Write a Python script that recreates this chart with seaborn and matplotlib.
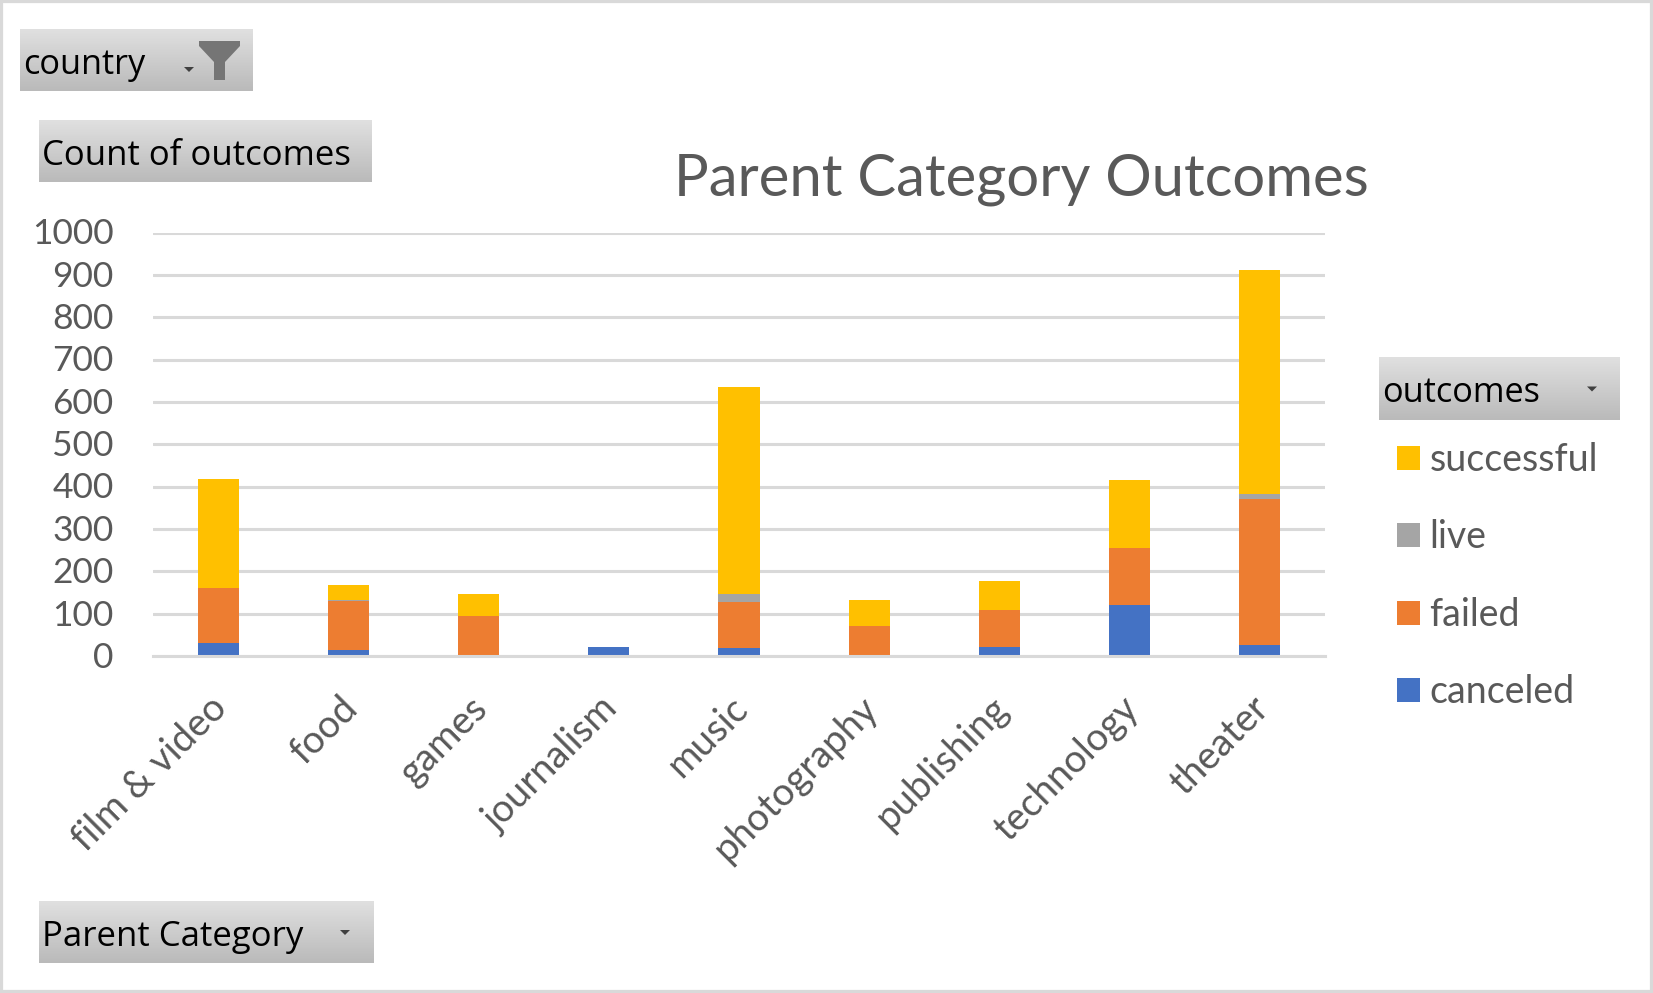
import numpy as np
import pandas as pd
import matplotlib
matplotlib.use("Agg")
import matplotlib.pyplot as plt
from matplotlib.patches import Rectangle, Polygon
from matplotlib.transforms import ScaledTranslation
import seaborn as sns

categories = ["film & video", "food", "games", "journalism", "music",
              "photography", "publishing", "technology", "theater"]
canceled = [30, 14, 0, 21, 19, 0, 21, 120, 26]
failed = [130, 116, 95, 0, 108, 71, 87, 136, 345]
live = [0, 3, 0, 0, 20, 0, 0, 0, 12]
successful = [259, 35, 52, 0, 488, 62, 69, 159, 528]
outcome_names = ["successful", "live", "failed", "canceled"]
outcome_colors = ["#FFC000", "#A5A5A5", "#ED7D31", "#4472C4"]
yticks = list(range(0, 1001, 100))

W, H = 1653, 993
TEXT = "#595959"
GRID = "#D9D9D9"

sns.set_theme(style="white")
plt.rcParams["font.family"] = ["Lato", "DejaVu Sans"]

fig = plt.figure(figsize=(W / 100, H / 100), dpi=100, facecolor="white")


def rect(x0, y0, x1, y1):
    return [x0 / W, 1 - y1 / H, (x1 - x0) / W, (y1 - y0) / H]


def fx(x):
    return x / W


def fy(y):
    return 1 - y / H


# outer chart border
fig.add_artist(Rectangle((0, 0), 1, 1, transform=fig.transFigure, fill=False,
                         edgecolor=GRID, linewidth=4.5))

ax = fig.add_axes(rect(153, 232.5, 1325, 656))
df = pd.DataFrame({
    "category": pd.Categorical(categories * 4, categories=categories, ordered=True),
    "outcome": np.repeat(outcome_names, len(categories)),
    "count": successful + live + failed + canceled,
})
sns.histplot(data=df, x="category", weights="count", hue="outcome",
             hue_order=outcome_names, palette=dict(zip(outcome_names, outcome_colors)),
             multiple="stack", shrink=0.316, alpha=1, linewidth=0, legend=False, ax=ax)
ax.set_xlim(-0.5, len(categories) - 0.5)
ax.set_ylim(0, 1000)
ax.set_yticks(yticks)
ax.set_xticks(range(len(categories)))
ax.set_xticklabels(categories, rotation=45, ha="right", rotation_mode="anchor",
                   fontsize=27.5, color=TEXT)
ax.tick_params(axis="y", length=0, pad=28.5, labelsize=25.5, labelcolor=TEXT)
ax.tick_params(axis="x", length=0, pad=24.5)
ax.set_xlabel("")
ax.set_ylabel("")
ax.grid(axis="y", color=GRID, linewidth=2.2, zorder=0)
ax.set_axisbelow(True)
for side in ["top", "right", "left"]:
    ax.spines[side].set_visible(False)
ax.spines["bottom"].set_color(GRID)
ax.spines["bottom"].set_linewidth(2.2)
shift = ScaledTranslation(-7 / 72, 0, fig.dpi_scale_trans)
for lab in ax.get_xticklabels():
    lab.set_transform(lab.get_transform() + shift)
yshift = ScaledTranslation(0, 0.8 / 72, fig.dpi_scale_trans)
for lab in ax.get_yticklabels():
    lab.set_transform(lab.get_transform() + yshift)

fig.text(fx(1021), fy(180), "Parent Category Outcomes", fontsize=41.8, color=TEXT,
         ha="center", va="center")

# legend
handles = [Rectangle((0, 0), 1, 1, facecolor=c, edgecolor="none") for c in outcome_colors]
fig.legend(handles, outcome_names, loc="upper left",
           bbox_to_anchor=(fx(1397), fy(442)), frameon=False, fontsize=27,
           labelcolor=TEXT, handlelength=0.62, handleheight=0.62, handletextpad=0.25,
           labelspacing=1.105, borderaxespad=0, borderpad=0)

# field buttons
gradient = np.linspace(0, 1, 64).reshape(-1, 1)
cmap = matplotlib.colors.LinearSegmentedColormap.from_list("btn", ["#E0E0E0", "#BABABA"])


def button(x0, y0, x1, y1, label, size, arrow_x):
    b = fig.add_axes(rect(x0, y0, x1, y1))
    b.imshow(gradient, aspect="auto", cmap=cmap, vmin=0, vmax=1)
    b.axis("off")
    fig.text(fx(x0 + 3), fy((y0 + y1) / 2 + 14), label, fontsize=size, color="black",
             family=["Open Sans", "DejaVu Sans"], ha="left", va="baseline")
    if arrow_x is not None:
        ay = (y0 + y1) / 2 + (9 if label == "country" else 0)
        fig.add_artist(Polygon([(fx(arrow_x - 5), fy(ay - 2)), (fx(arrow_x + 5), fy(ay - 2)),
                                (fx(arrow_x), fy(ay + 3))], closed=True,
                               transform=fig.transFigure, facecolor="#404040",
                               edgecolor="none", zorder=5))


button(20, 29, 253, 91, "country", 24.7, 189)
button(39, 120, 371, 182, "Count of outcomes", 25, None)
button(1379, 357, 1620, 420, "outcomes", 24.7, 1592)
button(39, 901, 374, 963, "Parent Category", 25, 345)

funnel = [(199, 41), (240, 41), (240, 46), (225, 62), (225, 80), (214, 80), (214, 62), (199, 46)]
fig.add_artist(Polygon([(fx(x), fy(y)) for x, y in funnel], closed=True,
                       transform=fig.transFigure, facecolor="#757575", edgecolor="none", zorder=5))

fig.savefig("out.png", dpi=100, facecolor="white")
